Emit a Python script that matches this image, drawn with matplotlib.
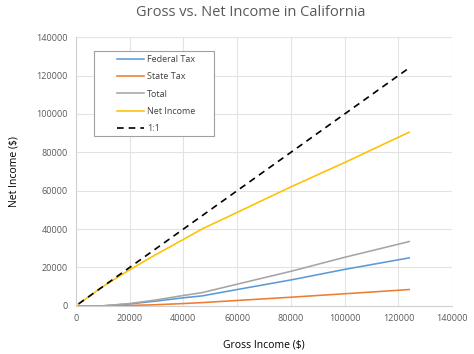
import matplotlib
matplotlib.use('Agg')
import matplotlib.pyplot as plt
from matplotlib.patches import Rectangle

gross = [1000, 10000, 20000, 30000, 40000, 47000, 60000, 80000, 100000, 124000]
federal = [0, 0, 1000, 2500, 4200, 5200, 8500, 13500, 19000, 25000]
state = [0, 0, 200, 600, 1200, 1700, 2800, 4500, 6300, 8500]
total = [0, 0, 1200, 3100, 5400, 6900, 11300, 18000, 25300, 33500]
net = [1000, 10000, 18800, 26900, 34600, 40100, 48700, 62000, 74700, 90500]
one_to_one = [1000, 10000, 20000, 30000, 40000, 47000, 60000, 80000, 100000, 124000]

plt.rcParams['font.family'] = ['Open Sans', 'DejaVu Sans']

fig = plt.figure(figsize=(4.74, 3.54), dpi=100)
ax = fig.add_axes([0.160, 0.136, 0.794, 0.759])

ax.plot(gross, federal, color='#5B9BD5', lw=1.15, label='Federal Tax')
ax.plot(gross, state, color='#ED7D31', lw=1.15, label='State Tax')
ax.plot(gross, total, color='#A5A5A5', lw=1.15, label='Total')
ax.plot(gross, net, color='#FFC000', lw=1.15, label='Net Income')
ax.plot(gross, one_to_one, color='black', lw=1.2, ls=(0, (4, 3)), label='1:1')

ax.set_xlim(0, 140000)
ax.set_ylim(0, 140000)
ax.set_xticks(range(0, 140001, 20000))
ax.set_yticks(range(0, 140001, 20000))
ax.grid(True, color='#E3E3E3', lw=0.8)
ax.set_axisbelow(True)
for s in ['top', 'right']:
    ax.spines[s].set_visible(False)
for s in ['left', 'bottom']:
    ax.spines[s].set_color('#D0D0D0')
ax.tick_params(length=0, labelsize=6.5, colors='#595959', pad=6)

ax.set_xlabel('Gross Income ($)', fontsize=7.5, labelpad=12)
ax.set_ylabel('Net Income ($)', fontsize=7.5, labelpad=12)
fig.suptitle('Gross vs. Net Income in California', x=0.53, y=0.985,
             fontsize=10.5, color='#595959')

# legend frame drawn separately so the padding matches the reference
frame = Rectangle((94 / 474, 1 - 136 / 354), 120 / 474, 85 / 354,
                  transform=fig.transFigure, facecolor='white',
                  edgecolor='#A0A0A0', lw=0.8, zorder=3, clip_on=False)
ax.add_patch(frame)
leg = ax.legend(loc='upper left', bbox_to_anchor=(117 / 474, 1 - 55 / 354),
                bbox_transform=fig.transFigure, fontsize=6.5, frameon=False,
                handlelength=3.0, handletextpad=0.35, labelspacing=0.92,
                borderpad=0, borderaxespad=0)
leg.set_zorder(4)
for t in leg.get_texts():
    t.set_color('#404040')

fig.savefig('out.png', dpi=100)
